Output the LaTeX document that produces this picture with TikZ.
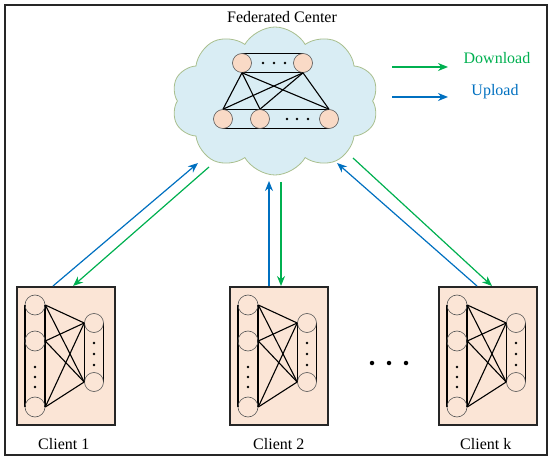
\documentclass[tikz,border=0pt]{standalone}
\usepackage{fontspec}
\setmainfont{Liberation Serif}
\usetikzlibrary{arrows.meta,shapes.symbols,calc}
\definecolor{boxfill}{HTML}{FBE5D6}
\definecolor{cirfill}{HTML}{F9DAC6}
\definecolor{cloudfill}{HTML}{D9EDF4}
\definecolor{cloudline}{HTML}{A9BF8E}
\definecolor{dlgreen}{HTML}{00B050}
\definecolor{ulblue}{HTML}{0070C0}
\definecolor{cirline}{HTML}{555555}
\tikzset{
  txt/.style={font=\fontsize{16}{19}\selectfont, inner sep=0pt},
  clientbox/.style={draw=black!85, line width=1.6pt, fill=boxfill, minimum width=98pt, minimum height=138pt, inner sep=0pt, anchor=north west},
  neuron/.style={circle, draw=cirline, line width=0.6pt, minimum size=20pt, inner sep=0pt},
  cneuron/.style={neuron, fill=cirfill, minimum size=19pt},
  tube/.style={line width=1.2pt, black},
  wire/.style={line width=1.1pt, black},
  dot/.style={circle, fill=black, minimum size=2.6pt, inner sep=0pt},
  bigdot/.style={circle, fill=black, minimum size=4.5pt, inner sep=0pt},
  down/.style={draw=dlgreen, line width=1.2pt, -{Stealth[length=10pt,width=8pt]}},
  up/.style={draw=ulblue, line width=1.2pt, -{Stealth[length=10pt,width=8pt]}},
  clientnet/.pic={
    \draw[tube] (9,19) -- (9,121);
    \draw[tube] (29,19) -- (29,121);
    \draw[tube] (68.5,37) -- (68.5,96);
    \draw[tube] (87.5,37) -- (87.5,96);
    \node[neuron] (a1) at (19,19) {};
    \node[neuron] (a2) at (19,55) {};
    \node[neuron] (a3) at (19,121) {};
    \node[neuron, minimum size=19pt] (b1) at (78,37) {};
    \node[neuron, minimum size=19pt] (b2) at (78,96) {};
    \foreach \i in {a1,a2,a3}{
      \foreach \j in {b1,b2}{
        \draw[wire] (\i.east) -- (\j.west);
      }
    }
    \node[dot] (ad1) at (19,81) {};
    \node[dot] (ad2) at (19,91) {};
    \node[dot] (ad3) at (19,101) {};
    \node[dot] (bd1) at (78,57) {};
    \node[dot] (bd2) at (78,68) {};
    \node[dot] (bd3) at (78,79) {};
  }
}
\begin{document}
\begin{tikzpicture}[x=1pt,y=-1pt]
\useasboundingbox (0,0) rectangle (550,460);
\draw[line width=1.6pt, black!85] (5,5) rectangle (547,455);

% cloud
\node[cloud, cloud puffs=10, cloud puff arc=120, aspect=1.4, draw=cloudline, line width=0.8pt, fill=cloudfill, minimum width=207pt, minimum height=148pt, inner sep=0pt] (cloud) at (275,101) {};
\node[txt] (fc) at (282,17) {Federated Center};

% server network
\draw[tube] (242,53.5) -- (303,53.5);
\draw[tube] (242,72.5) -- (303,72.5);
\draw[tube] (223,109.5) -- (329,109.5);
\draw[tube] (223,128.5) -- (329,128.5);
\node[cneuron] (t1) at (242,63) {};
\node[cneuron] (t2) at (303,63) {};
\node[cneuron] (s1) at (223,119) {};
\node[cneuron] (s2) at (260,119) {};
\node[cneuron] (s3) at (329,119) {};
\foreach \i in {t1,t2}{
  \foreach \j in {s1,s2,s3}{
    \draw[wire] (\i.south) -- (\j.north);
  }
}
\node[dot] (td1) at (263,63) {};
\node[dot] (td2) at (274,63) {};
\node[dot] (td3) at (285,63) {};
\node[dot] (sd1) at (287,119) {};
\node[dot] (sd2) at (297,119) {};
\node[dot] (sd3) at (308,119) {};

% legend
\coordinate (dla) at (392,67);
\coordinate (dlb) at (448,67);
\coordinate (ula) at (392,97);
\coordinate (ulb) at (448,97);
\draw[down] (dla) -- (dlb);
\draw[up] (ula) -- (ulb);
\node[txt, text=dlgreen] (dltext) at (497,58) {Download};
\node[txt, text=ulblue] (ultext) at (495,92) {Upload};

% clients
\node[clientbox] (c1) at (16,286) {};
\node[clientbox] (c2) at (229,286) {};
\node[clientbox] (ck) at (438,286) {};
\pic at (16,286) {clientnet};
\pic at (229,286) {clientnet};
\pic at (438,286) {clientnet};
\node[txt] (l1) at ($(c1.south)+(-2,18)$) {Client 1};
\node[txt] (l2) at ($(c2.south)+(0,18)$) {Client 2};
\node[txt] (lk) at ($(ck.south)+(-2,18)$) {Client k};

\node[bigdot] (e1) at (372,363) {};
\node[bigdot] (e2) at (389,363) {};
\node[bigdot] (e3) at (406,363) {};

% arrows
\coordinate (u1) at (198,163);
\coordinate (d1) at (209,167);
\coordinate (u2) at (269,181);
\coordinate (d2) at (281,182);
\coordinate (uk) at (337,163);
\coordinate (dk) at (353,158);
\draw[up] ([xshift=37pt]c1.north west) -- (u1);
\draw[down] (d1) -- ([xshift=57pt]c1.north west);
\draw[up] ([xshift=40pt]c2.north west) -- (u2);
\draw[down] (d2) -- ([xshift=52pt]c2.north west);
\draw[up] ([xshift=39pt]ck.north west) -- (uk);
\draw[down] (dk) -- ([xshift=54pt]ck.north west);
\end{tikzpicture}
\end{document}
